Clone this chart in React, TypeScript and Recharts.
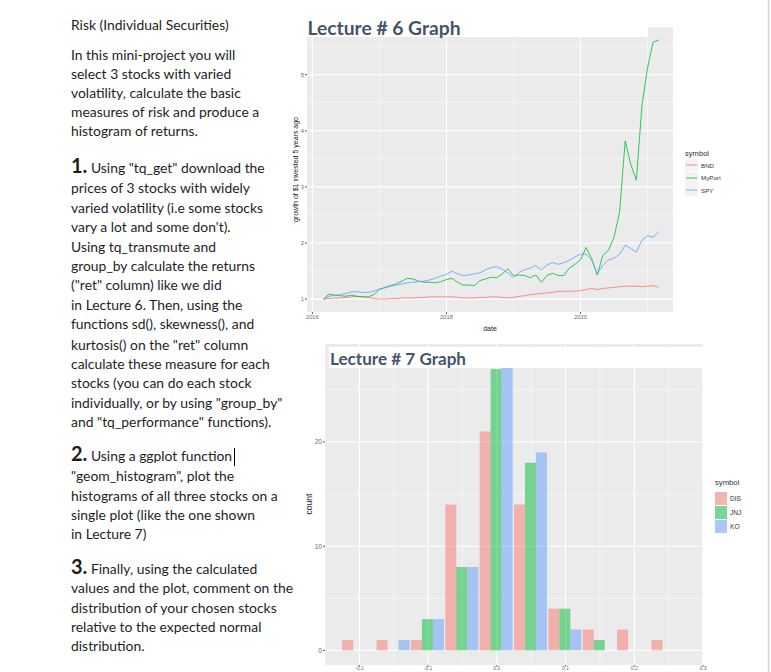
import React from "react";
import { LineChart, Line, XAxis, YAxis, CartesianGrid, Legend, BarChart, Bar } from "recharts";

// ---------- Lecture 6: growth of $1 (monthly, end of month) ----------
const months = [
  "2016-02", "2016-03", "2016-04", "2016-05", "2016-06", "2016-07", "2016-08", "2016-09", "2016-10", "2016-11", "2016-12",
  "2017-01", "2017-02", "2017-03", "2017-04", "2017-05", "2017-06", "2017-07", "2017-08", "2017-09", "2017-10", "2017-11", "2017-12",
  "2018-01", "2018-02", "2018-03", "2018-04", "2018-05", "2018-06", "2018-07", "2018-08", "2018-09", "2018-10", "2018-11", "2018-12",
  "2019-01", "2019-02", "2019-03", "2019-04", "2019-05", "2019-06", "2019-07", "2019-08", "2019-09", "2019-10", "2019-11", "2019-12",
  "2020-01", "2020-02", "2020-03", "2020-04", "2020-05", "2020-06", "2020-07", "2020-08", "2020-09", "2020-10", "2020-11", "2020-12",
  "2021-01", "2021-02",
];
const bnd = [
  1.0, 1.01, 1.02, 1.02, 1.03, 1.04, 1.05, 1.04, 1.03, 1.01, 1.0,
  1.0, 1.01, 1.01, 1.02, 1.02, 1.02, 1.03, 1.03, 1.04, 1.04, 1.04, 1.04,
  1.04, 1.03, 1.02, 1.02, 1.02, 1.03, 1.03, 1.04, 1.04, 1.03, 1.02, 1.03,
  1.05, 1.06, 1.08, 1.09, 1.1, 1.11, 1.12, 1.14, 1.14, 1.14, 1.14, 1.15,
  1.17, 1.19, 1.17, 1.19, 1.2, 1.21, 1.22, 1.23, 1.23, 1.23, 1.22, 1.23,
  1.24, 1.21,
];
const myPort = [
  1.0, 1.09, 1.07, 1.06, 1.05, 1.07, 1.05, 1.04, 1.04, 1.08, 1.17,
  1.21, 1.24, 1.27, 1.32, 1.37, 1.36, 1.32, 1.3, 1.3, 1.29, 1.31, 1.35,
  1.37, 1.3, 1.25, 1.25, 1.24, 1.33, 1.36, 1.39, 1.38, 1.45, 1.54, 1.42,
  1.43, 1.42, 1.38, 1.43, 1.3, 1.42, 1.46, 1.42, 1.42, 1.55, 1.62, 1.7,
  1.92, 1.72, 1.43, 1.78, 1.87, 2.1, 2.55, 3.82, 3.4, 3.12, 4.45, 5.12,
  5.58, 5.62,
];
const spy = [
  1.0, 1.05, 1.07, 1.08, 1.1, 1.13, 1.13, 1.12, 1.12, 1.14, 1.18,
  1.2, 1.23, 1.25, 1.27, 1.29, 1.3, 1.31, 1.32, 1.34, 1.37, 1.41, 1.44,
  1.5, 1.45, 1.42, 1.43, 1.45, 1.47, 1.52, 1.56, 1.58, 1.53, 1.47, 1.38,
  1.48, 1.52, 1.55, 1.6, 1.52, 1.61, 1.65, 1.62, 1.65, 1.69, 1.75, 1.8,
  1.8, 1.7, 1.45, 1.6, 1.7, 1.73, 1.8, 1.96, 1.9, 1.84, 2.05, 2.13,
  2.1, 2.2,
];
const yTicks6 = [1, 2, 3, 4, 5];
const yMinor6 = [1.5, 2.5, 3.5, 4.5, 5.5];
const xTicks6 = [2016, 2018, 2020];
const xMinor6 = [2017, 2019, 2021];

const series6 = [
  { key: "BND", color: "#F8766D" },
  { key: "MyPort", color: "#00BA38" },
  { key: "SPY", color: "#619CFF" },
];

const toYear = (m: string) => {
  const [y, mo] = m.split("-").map(Number);
  return y + mo / 12;
};
const lineData = months.map((m, i) => ({ t: toYear(m), BND: bnd[i], MyPort: myPort[i], SPY: spy[i] }));

// ---------- Lecture 7: histogram of returns ----------
const binCenters = [-0.2, -0.15, -0.1, -0.05, 0, 0.05, 0.1, 0.15, 0.2, 0.25];
const disCounts = [1, 1, 1, 14, 21, 14, 4, 2, 2, 1];
const jnjCounts = [0, 0, 3, 8, 27, 18, 4, 1, 0, 0];
const koCounts = [0, 1, 3, 8, 28, 19, 2, 0, 0, 0];
const xTicks7 = [-0.2, -0.1, 0, 0.1, 0.2, 0.3];
const xMinor7 = [-0.15, -0.05, 0.05, 0.15, 0.25];
const yTicks7 = [0, 10, 20];
const yMinor7 = [5, 15, 25];
const series7 = [
  { key: "DIS", color: "#F8766D" },
  { key: "JNJ", color: "#00BA38" },
  { key: "KO", color: "#619CFF" },
];
const histData = binCenters.map((x, i) => ({ x, DIS: disCounts[i], JNJ: jnjCounts[i], KO: koCounts[i] }));

// ---------- Document text ----------
const docLines: { num?: string; text: string; cursor?: boolean }[] = [
  { text: "Risk (Individual Securities)" },
  { text: "In this mini-project you will" },
  { text: "select 3 stocks with varied" },
  { text: "volatility, calculate the basic" },
  { text: "measures of risk and produce a" },
  { text: "histogram of returns." },
  { num: "1.", text: " Using \"tq_get\" download the" },
  { text: "prices of 3 stocks with widely" },
  { text: "varied volatility (i.e some stocks" },
  { text: "vary a lot and some don't)." },
  { text: "Using tq_transmute and" },
  { text: "group_by calculate the returns" },
  { text: "(\"ret\" column) like we did" },
  { text: "in Lecture 6. Then, using the" },
  { text: "functions sd(), skewness(), and" },
  { text: "kurtosis() on the \"ret\" column" },
  { text: "calculate these measure for each" },
  { text: "stocks (you can do each stock" },
  { text: "individually, or by using \"group_by\"" },
  { text: "and \"tq_performance\" functions)." },
  { num: "2.", text: " Using a ggplot function", cursor: true },
  { text: "\"geom_histogram\", plot the" },
  { text: "histograms of all three stocks on a" },
  { text: "single plot (like the one shown" },
  { text: "in Lecture 7)" },
  { num: "3.", text: " Finally, using the calculated" },
  { text: "values and the plot, comment on the" },
  { text: "distribution of your chosen stocks" },
  { text: "relative to the expected normal" },
  { text: "distribution." },
];
const docLineY = [
  25, 55, 74, 93, 112, 131, 165, 188, 208, 227, 247, 266, 285, 305, 324, 345, 364, 383, 403, 422,
  453, 476, 496, 515, 534, 566, 588, 608, 627, 646,
];

const GG_FONT = "'Liberation Sans', Arial, sans-serif";
const DOC_FONT = "Lato, 'Open Sans', sans-serif";

const DocText = () => (
  <div style={{ position: "absolute", left: 0, top: 0, fontFamily: DOC_FONT, color: "#1e1e1e" }}>
    {docLines.map((l, i) => (
      <div
        key={i}
        style={{
          position: "absolute",
          left: 71,
          top: docLineY[i] - 10,
          height: 20,
          lineHeight: "20px",
          fontSize: 13.9,
          whiteSpace: "nowrap",
        }}
      >
        {l.num ? <span style={{ fontWeight: 700, fontSize: 20 }}>{l.num}</span> : null}
        {l.text}
        {l.cursor ? (
          <span style={{ display: "inline-block", width: 1, height: 18, background: "#000", marginLeft: 2, verticalAlign: "middle" }} />
        ) : null}
      </div>
    ))}
  </div>
);

const Legend6 = () => (
  <div style={{ fontFamily: GG_FONT, color: "#333" }}>
    <div style={{ fontSize: 7.6, height: 11, lineHeight: "11px" }}>symbol</div>
    {series6.map((s) => (
      <div key={s.key} style={{ display: "flex", alignItems: "center", height: 12.5 }}>
        <svg width={13} height={12} style={{ display: "block" }}>
          <rect x={0} y={0} width={13} height={12} fill="#F2F2F2" />
          <line x1={1} x2={12} y1={6} y2={6} stroke={s.color} strokeOpacity={0.8} strokeWidth={1} />
        </svg>
        <span style={{ fontSize: 6.2, marginLeft: 3 }}>{s.key}</span>
      </div>
    ))}
  </div>
);

const Legend7 = () => (
  <div style={{ fontFamily: GG_FONT, color: "#333" }}>
    <div style={{ fontSize: 7.7, height: 16, lineHeight: "13px" }}>symbol</div>
    {series7.map((s) => (
      <div key={s.key} style={{ display: "flex", alignItems: "center", height: 13.7 }}>
        <svg width={12} height={13} style={{ display: "block" }}>
          <rect x={0} y={0} width={12} height={13} fill="#F2F2F2" />
          <rect x={0} y={0} width={12} height={13} fill={s.color} fillOpacity={0.5} />
        </svg>
        <span style={{ fontSize: 6.6, marginLeft: 3 }}>{s.key}</span>
      </div>
    ))}
  </div>
);

const fmt7 = (v: number) => (Math.abs(v) < 1e-9 ? "0.0" : v.toFixed(1));

export default function App() {
  return (
    <div style={{ position: "absolute", left: 0, top: 0, width: 771, height: 672, overflow: "hidden", background: "#fff" }}>
      <DocText />

      <div style={{ position: "absolute", left: 280, top: 10 }}>
        <LineChart width={420} height={322} data={lineData} margin={{ top: 17, right: 27, bottom: 0, left: 0 }}>
          <CartesianGrid fill="#EBEBEB" stroke="#FFFFFF" strokeWidth={0.5} horizontalValues={yMinor6} verticalValues={xMinor6} />
          <CartesianGrid fill="none" stroke="#FFFFFF" strokeWidth={1.1} horizontalValues={yTicks6} verticalValues={xTicks6} />
          <XAxis
            type="number"
            dataKey="t"
            domain={[2015.92, 2021.38]}
            ticks={xTicks6}
            allowDataOverflow
            axisLine={false}
            tickSize={2}
            tickMargin={1}
            tickLine={{ stroke: "#555" }}
            tick={{ fontSize: 5.8, fill: "#6b6b6b", fontFamily: GG_FONT }}
            height={20}
          />
          <YAxis
            type="number"
            domain={[0.77, 5.85]}
            ticks={yTicks6}
            allowDataOverflow
            axisLine={false}
            tickSize={2}
            tickMargin={1}
            tickLine={{ stroke: "#555" }}
            tick={{ fontSize: 5.8, fill: "#6b6b6b", fontFamily: GG_FONT }}
            width={27}
          />
          {series6.map((s) => (
            <Line
              key={s.key}
              type="linear"
              dataKey={s.key}
              stroke={s.color}
              strokeOpacity={0.8}
              strokeWidth={1}
              dot={false}
              isAnimationActive={false}
            />
          ))}
          <Legend
            layout="vertical"
            align="center"
            verticalAlign="middle"
            content={() => <Legend6 />}
            wrapperStyle={{ left: 405, top: 138, width: 60 }}
          />
        </LineChart>
      </div>

      <div style={{ position: "absolute", left: 280, top: 340 }}>
        <BarChart
          width={490}
          height={332}
          data={histData}
          margin={{ top: 4, right: 67, bottom: 0, left: 0 }}
          barGap={0}
          barCategoryGap={0}
        >
          <CartesianGrid fill="#EBEBEB" stroke="#FFFFFF" strokeWidth={0.5} horizontalValues={yMinor7} verticalValues={xMinor7} />
          <CartesianGrid fill="none" stroke="#FFFFFF" strokeWidth={1.1} horizontalValues={yTicks7} verticalValues={xTicks7} />
          <XAxis
            type="number"
            dataKey="x"
            domain={[-0.25, 0.3]}
            ticks={xTicks7}
            allowDataOverflow
            axisLine={false}
            tickSize={1.5}
            tickMargin={0}
            tickLine={{ stroke: "#555" }}
            tickFormatter={fmt7}
            tick={{ fontSize: 5, fill: "#6b6b6b", fontFamily: GG_FONT }}
            height={7}
          />
          <YAxis
            type="number"
            domain={[-1.4, 29.4]}
            ticks={yTicks7}
            allowDataOverflow
            axisLine={false}
            tickSize={2}
            tickMargin={1}
            tickLine={{ stroke: "#555" }}
            tick={{ fontSize: 6.6, fill: "#6b6b6b", fontFamily: GG_FONT }}
            width={45}
          />
          {series7.map((s) => (
            <Bar key={s.key} dataKey={s.key} fill={s.color} fillOpacity={0.5} isAnimationActive={false} />
          ))}
          <Legend
            layout="vertical"
            align="center"
            verticalAlign="middle"
            content={() => <Legend7 />}
            wrapperStyle={{ left: 435, top: 136, width: 60 }}
          />
        </BarChart>
      </div>

      <svg width={771} height={672} style={{ position: "absolute", left: 0, top: 0, pointerEvents: "none" }}>
        <rect x={302} y={8} width={346} height={29} fill="#FFFFFF" />
        <text x={307.5} y={35} fontFamily={DOC_FONT} fontWeight={700} fontSize={19} fill="#44546A" textLength={153} lengthAdjust="spacingAndGlyphs">
          Lecture # 6 Graph
        </text>
        <text x={490} y={330.5} fontFamily={GG_FONT} fontSize={7} fill="#222" textAnchor="middle">date</text>
        <text
          x={297.5}
          y={169.5}
          fontFamily={GG_FONT}
          fontSize={7}
          fill="#222"
          textAnchor="middle"
          transform="rotate(-90 297.5 169.5)"
        >
          growth of $1 invested 5 years ago
        </text>

        <rect x={329} y={347} width={374} height={21} fill="#FFFFFF" />
        <text x={330} y={365} fontFamily={DOC_FONT} fontWeight={700} fontSize={17} fill="#44546A" textLength={136} lengthAdjust="spacingAndGlyphs">
          Lecture # 7 Graph
        </text>
        <text
          x={312}
          y={504}
          fontFamily={GG_FONT}
          fontSize={8.5}
          fill="#222"
          textAnchor="middle"
          transform="rotate(-90 312 504)"
        >
          count
        </text>

        <line x1={768.5} x2={768.5} y1={0} y2={672} stroke="#D4D4D4" strokeWidth={1.5} />
      </svg>
    </div>
  );
}
